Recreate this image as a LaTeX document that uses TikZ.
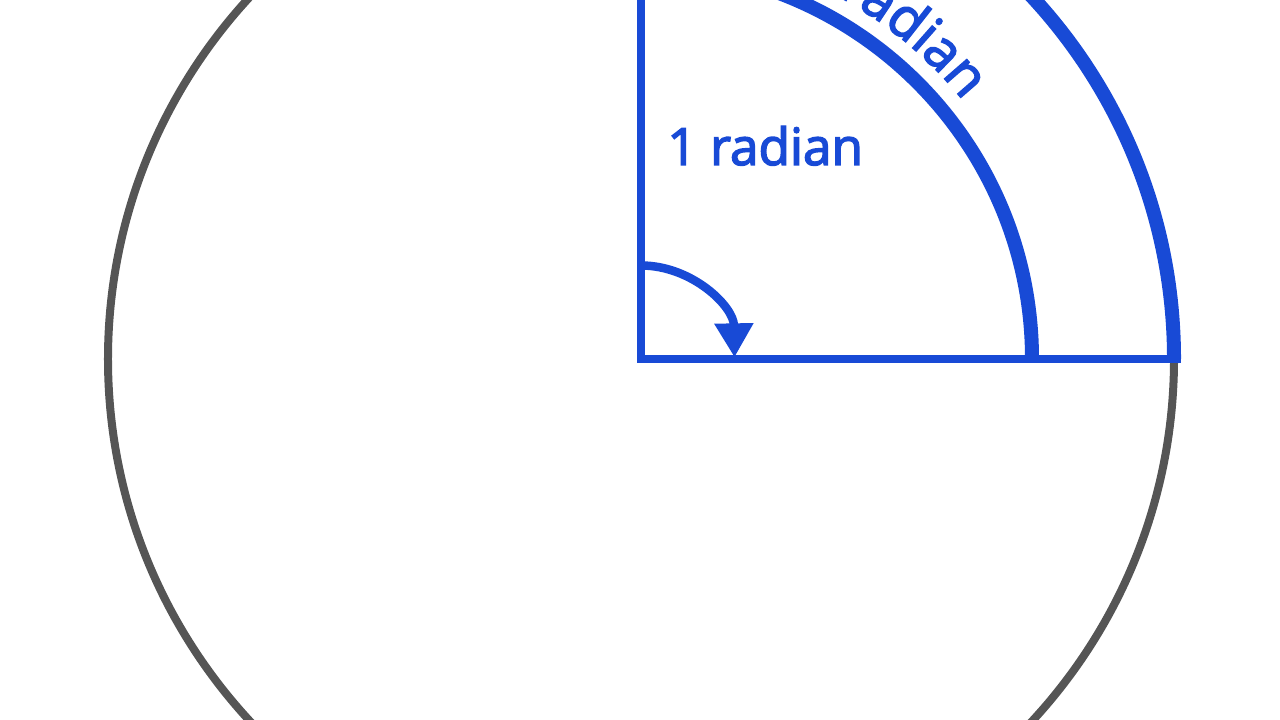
\documentclass[tikz,border=0pt]{standalone}
\usepackage{fontspec}
\usepackage{tikz}
\usetikzlibrary{arrows.meta,decorations.text}
\newfontfamily\labelfont[FakeBold=2.8]{Open Sans}
\definecolor{radblue}{RGB}{24,74,214}
\definecolor{rimgray}{RGB}{85,85,85}

\begin{document}
\begin{tikzpicture}[
    rim/.style={draw=rimgray, line width=0.8mm},
    sideline/.style={draw=radblue, line width=0.75mm},
    arcband/.style={draw=radblue, line width=1.4mm},
    radtext/.style={text=radblue, font=\labelfont\fontsize{14.6}{16}\selectfont}
    ]
    \useasboundingbox (-6.41,-3.61) rectangle (6.39,3.59);
    \clip (-6.41,-3.61) rectangle (6.39,3.59);

    \coordinate (O) at (0,0);
    \coordinate (top) at (0,3.8);
    \coordinate (rightend) at (5.40,0);

    % whole circle
    \draw[rim] (O) circle (5.33);

    % the two arcs of the quarter
    \draw[arcband] (3.91,0) arc[start angle=0, end angle=90, radius=3.91];
    \draw[arcband] (5.33,0) arc[start angle=0, end angle=90, radius=5.33];
    \draw[sideline] (top) -- (O) -- (rightend);

    % angle arrow
    \draw[sideline, line width=0.85mm, -{Triangle[width=3.7mm,length=3.4mm]}]
        (90:0.935) arc[start angle=90, end angle=1, radius=0.935];

    \node[radtext, anchor=base west] (flat) at (0.14,1.94) {1 radian};
    \path[decorate, decoration={text along path, text color=radblue,
        text={|\labelfont\fontsize{15.6}{17}\selectfont|radian}}]
        (61.5:4.13) arc[start angle=61.5, end angle=10, radius=4.13];
\end{tikzpicture}
\end{document}
